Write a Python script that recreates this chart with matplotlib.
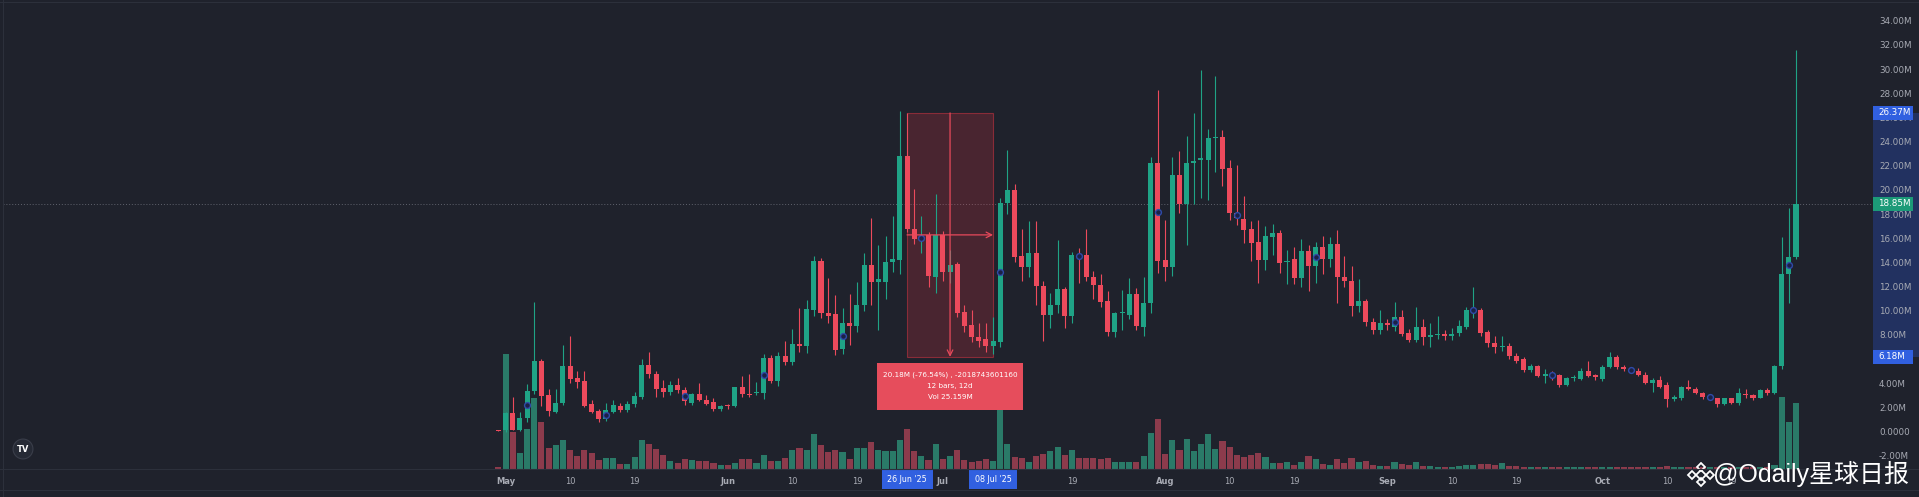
import numpy as np
import pandas as pd
import matplotlib
matplotlib.use('Agg')
import matplotlib.pyplot as plt
from matplotlib.patches import Rectangle
from matplotlib.lines import Line2D
import matplotlib.transforms as mtransforms

# daily candles, values in millions, first bar 30 Apr 2025
start = '2025-04-30'
opens = [0.08,
         0.1, 1.5, 0.15, 1.1, 3.35, 5.85, 3.0, 1.65, 2.35, 5.4,
         4.4, 4.2, 2.3, 1.7, 1.0, 1.65, 2.1, 1.75, 2.27, 2.88,
         5.5, 4.76, 3.6, 3.3, 3.87, 3.43, 2.4, 3.1, 2.6, 2.44,
         1.86, 2.15, 2.1, 3.66, 3.1, 3.15, 3.2, 6.1, 4.18, 6.25,
         5.78, 7.24, 7.08, 10.06, 14.14, 9.8, 9.7, 6.83, 8.98, 8.7,
         10.47, 13.78, 12.4, 12.4, 14.03, 14.2, 22.8, 16.8, 15.95, 16.27,
         12.8, 16.27, 13.2, 13.86, 9.9, 8.8, 7.85, 7.66, 7.08, 7.43,
         18.94, 20.0, 14.5, 13.6, 14.8, 12.04, 9.64, 10.47, 11.77, 9.6,
         14.6, 14.6, 12.8, 12.1, 10.8, 8.2, 9.8, 9.65, 11.4, 8.68,
         10.6, 22.25, 14.2, 13.6, 21.2, 18.8, 22.2, 22.45, 22.5, 24.27,
         24.35, 21.8, 18.1, 17.57, 16.8, 15.7, 14.2, 16.1, 16.46, 14.0,
         14.25, 12.73, 14.94, 13.7, 15.3, 14.28, 15.5, 12.8, 12.46, 10.39,
         10.8, 9.09, 8.4, 9.0, 8.68, 9.5, 8.18, 7.57, 8.62, 7.8,
         7.95, 8.05, 7.9, 8.13, 8.68, 10.0, 10.06, 8.26, 7.35, 7.0,
         7.08, 6.28, 5.98, 5.09, 5.42, 4.6, 4.75, 4.68, 3.85, 4.4,
         4.32, 5.0, 4.6, 4.32, 5.37, 6.14, 5.37, 5.15, 5.03, 4.68,
         3.99, 4.3, 3.85, 2.66, 2.75, 3.7, 3.55, 3.15, 2.85, 2.75,
         2.3, 2.75, 2.33, 3.1, 3.0, 2.8, 3.45, 3.16, 5.42, 13.04,
         14.47]
closes = [0.05,
          1.5, 0.15, 1.1, 3.35, 5.85, 2.95, 1.7, 2.4, 5.4, 4.35,
          4.1, 2.1, 1.65, 1.0, 1.8, 2.2, 1.75, 2.3, 2.94, 5.5,
          4.76, 3.5, 3.27, 3.87, 3.4, 2.5, 3.1, 2.6, 2.3, 1.86,
          2.1, 2.1, 3.66, 3.1, 3.05, 3.25, 6.1, 4.18, 6.25, 5.78,
          7.24, 7.08, 10.14, 14.14, 9.8, 9.6, 6.75, 8.98, 8.7, 10.47,
          13.78, 12.4, 12.6, 14.03, 14.3, 22.8, 16.8, 15.9, 16.1, 12.87,
          16.27, 13.2, 13.8, 9.8, 8.73, 7.85, 7.5, 7.08, 7.5, 18.94,
          20.0, 14.47, 13.6, 14.8, 12.04, 9.64, 10.47, 11.77, 9.6, 14.6,
          14.4, 12.8, 12.1, 10.75, 8.2, 9.78, 9.8, 11.4, 8.7, 10.6,
          22.25, 14.14, 13.6, 21.2, 18.8, 22.2, 22.4, 22.6, 24.27, 24.4,
          21.7, 18.06, 17.7, 16.68, 15.58, 14.2, 16.2, 16.4, 13.97, 14.15,
          12.73, 14.94, 13.7, 15.25, 14.28, 15.5, 12.76, 12.46, 10.39, 10.8,
          9.09, 8.4, 9.0, 8.8, 9.5, 8.1, 7.57, 8.62, 7.85, 8.0,
          8.05, 7.9, 8.05, 8.73, 10.06, 10.15, 8.18, 7.35, 7.0, 7.1,
          6.28, 5.86, 5.09, 5.42, 4.6, 4.76, 4.65, 3.85, 4.4, 4.55,
          5.03, 4.6, 4.55, 5.37, 6.14, 5.34, 5.15, 5.05, 4.68, 3.99,
          4.3, 3.7, 2.66, 2.9, 3.71, 3.55, 3.15, 2.85, 2.9, 2.28,
          2.75, 2.4, 3.16, 3.0, 2.8, 3.4, 3.16, 5.42, 13.04, 14.47,
          18.85]
highs = [0.1,
         1.6, 2.9, 1.6, 3.9, 10.7, 6.0, 3.55, 3.55, 7.15, 7.9,
         5.0, 5.0, 2.6, 1.9, 2.4, 2.6, 2.4, 2.5, 3.3, 6.0,
         6.6, 5.0, 4.3, 4.2, 4.4, 3.7, 3.2, 4.0, 3.0, 2.8,
         2.2, 2.3, 3.7, 4.6, 4.8, 4.1, 6.4, 6.3, 6.6, 7.5,
         8.5, 10.2, 10.9, 14.5, 14.4, 12.7, 11.3, 10.2, 11.4, 12.4,
         14.8, 17.7, 15.4, 16.2, 17.84, 26.5, 26.37, 20.1, 17.8, 16.5,
         19.7, 16.6, 15.0, 14.0, 10.5, 10.06, 9.0, 9.0, 9.5, 19.3,
         23.3, 20.5, 16.8, 17.4, 17.4, 12.5, 11.5, 15.85, 12.0, 14.9,
         15.2, 16.8, 13.3, 13.0, 11.6, 9.9, 11.7, 12.7, 11.9, 12.8,
         22.7, 28.3, 17.5, 22.7, 23.25, 24.5, 26.4, 29.9, 25.0, 29.4,
         24.96, 22.5, 22.06, 19.5, 17.45, 17.5, 17.0, 17.2, 16.7, 15.0,
         15.3, 15.9, 15.4, 15.7, 16.2, 16.1, 16.7, 14.5, 13.7, 12.6,
         11.0, 9.4, 10.1, 9.3, 10.7, 10.1, 8.5, 10.3, 9.3, 9.0,
         9.6, 8.4, 8.6, 9.2, 10.3, 11.94, 10.2, 8.4, 7.9, 7.9,
         7.3, 6.5, 6.2, 5.6, 5.5, 5.2, 5.0, 4.8, 4.5, 4.65,
         5.3, 5.8, 4.8, 5.5, 6.6, 6.3, 5.5, 5.3, 5.3, 4.9,
         4.4, 4.6, 4.1, 3.0, 3.75, 4.3, 3.7, 3.3, 3.1, 2.8,
         2.8, 2.8, 3.6, 3.5, 3.1, 3.5, 3.6, 5.5, 16.07, 18.5,
         31.6]
lows = [0.03,
        0.0, 0.1, 0.05, 0.8, 3.1, 2.1, 1.3, 1.5, 2.2, 4.0,
        3.6, 2.0, 1.5, 0.8, 0.9, 1.5, 1.6, 1.6, 2.0, 2.7,
        4.4, 2.9, 2.9, 3.0, 3.2, 2.2, 2.2, 2.5, 2.2, 1.7,
        1.7, 1.9, 2.0, 2.9, 2.9, 3.0, 2.7, 4.0, 3.8, 5.5,
        5.5, 6.6, 6.5, 9.6, 9.4, 9.0, 6.3, 6.4, 7.2, 8.2,
        10.0, 10.5, 8.4, 11.0, 13.2, 13.0, 16.5, 15.5, 14.8, 12.0,
        11.5, 12.5, 12.3, 9.5, 8.2, 7.4, 7.0, 6.6, 6.4, 7.0,
        18.0, 14.0, 12.5, 12.8, 10.5, 7.5, 8.6, 9.8, 8.6, 9.0,
        12.3, 12.5, 11.0, 10.3, 7.9, 7.8, 8.4, 9.3, 8.4, 7.9,
        9.8, 13.15, 12.5, 12.9, 18.1, 15.4, 18.8, 19.3, 19.2, 21.5,
        20.3, 17.5, 17.1, 15.6, 14.14, 12.3, 13.37, 14.6, 13.1, 12.2,
        12.2, 12.0, 11.6, 12.3, 13.0, 13.6, 10.6, 12.0, 9.6, 9.9,
        8.7, 8.1, 8.1, 8.4, 8.3, 7.9, 7.4, 7.4, 7.2, 7.0,
        7.7, 7.6, 7.6, 7.9, 8.5, 9.4, 7.9, 7.0, 6.5, 6.7,
        6.0, 5.7, 4.9, 4.9, 4.5, 4.0, 4.3, 3.7, 3.8, 4.2,
        4.3, 4.5, 4.3, 4.2, 5.3, 5.2, 5.0, 4.9, 4.6, 3.9,
        3.3, 3.6, 2.0, 2.5, 2.6, 3.4, 3.1, 2.7, 2.7, 2.0,
        2.2, 2.3, 2.2, 2.8, 2.6, 2.75, 3.0, 3.1, 5.2, 10.6,
        14.3]
volumes = [0.3,
           15.3, 4.9, 2.1, 5.3, 9.4, 6.3, 2.8, 3.2, 3.9, 2.5,
           1.7, 2.5, 2.1, 1.2, 1.5, 1.5, 0.7, 0.7, 1.6, 3.9,
           3.3, 2.7, 1.9, 1.1, 0.8, 1.3, 1.2, 1.1, 1.1, 0.8,
           0.5, 0.5, 0.8, 1.3, 1.3, 0.8, 1.9, 1.1, 1.1, 1.5,
           2.5, 2.8, 2.5, 4.7, 3.2, 2.3, 2.5, 2.3, 1.3, 2.8,
           2.8, 3.6, 2.5, 2.4, 2.4, 3.9, 5.3, 2.4, 1.7, 1.2,
           3.3, 1.3, 1.7, 2.5, 1.2, 0.9, 1.1, 1.3, 1.1, 7.8,
           3.3, 1.6, 1.5, 0.9, 1.7, 2.0, 2.4, 2.9, 1.9, 2.5,
           1.5, 1.5, 1.5, 1.3, 1.5, 0.9, 0.9, 0.9, 0.9, 1.7,
           4.8, 6.7, 2.0, 3.9, 2.5, 4.0, 2.4, 3.3, 4.7, 2.7,
           3.7, 2.9, 1.9, 1.6, 1.9, 2.1, 1.6, 0.8, 0.8, 0.9,
           0.5, 0.9, 1.7, 1.3, 0.7, 0.5, 1.3, 0.8, 1.5, 0.9,
           1.1, 0.5, 0.4, 0.4, 0.9, 0.7, 0.5, 0.9, 0.4, 0.4,
           0.3, 0.3, 0.3, 0.4, 0.5, 0.5, 0.7, 0.7, 0.5, 0.8,
           0.4, 0.4, 0.3, 0.3, 0.3, 0.3, 0.2, 0.2, 0.2, 0.2,
           0.3, 0.3, 0.2, 0.3, 0.3, 0.3, 0.2, 0.2, 0.2, 0.3,
           0.3, 0.3, 0.4, 0.3, 0.3, 0.2, 0.2, 0.2, 0.2, 0.2,
           0.2, 0.2, 0.3, 0.2, 0.2, 0.3, 0.3, 0.5, 9.6, 6.3,
           8.8]
event_dates = ['2025-05-04', '2025-05-15', '2025-05-26', '2025-06-06', '2025-06-17',
               '2025-06-28', '2025-07-09', '2025-07-20', '2025-07-31', '2025-08-11',
               '2025-08-22', '2025-09-02', '2025-09-13', '2025-09-24', '2025-10-05',
               '2025-10-16', '2025-10-27']

# measured range drawn on the chart
range_start, range_end = '2025-06-26', '2025-07-08'
range_high, range_low = 26.37, 6.18
range_text = ['20.18M (-76.54%) , -2018743601160', '12 bars, 12d', 'Vol 25.159M']

tick_dates = ['2025-05-01', '2025-05-10', '2025-05-19', '2025-06-01', '2025-06-10',
              '2025-06-19', '2025-07-01', '2025-07-19', '2025-08-01', '2025-08-10',
              '2025-08-19', '2025-09-01', '2025-09-10', '2025-09-19', '2025-10-01',
              '2025-10-10', '2025-10-19']
tick_labels = ['May', '10', '19', 'Jun', '10', '19', 'Jul', '19', 'Aug', '10', '19',
               'Sep', '10', '19', 'Oct', '10', '19']
months = ['May', 'Jun', 'Jul', 'Aug', 'Sep', 'Oct']

assert len(opens) == len(closes) == len(highs) == len(lows) == len(volumes) == 182

BG = '#1f222c'
UP, DOWN = '#1fa386', '#ec4a5c'
VUP, VDOWN = '#2a7a68', '#8c3b4c'
BLUE = '#3160e0'
TXT = '#a8abb4'
LINE = '#2c303b'

ref = pd.Timestamp('2025-05-01')
dates = pd.date_range(start, periods=len(opens), freq='D')
x = np.asarray((dates - ref).days, dtype=float)
o = np.array(opens)
c = np.array(closes)
h = np.array(highs)
l = np.array(lows)
v = np.array(volumes)
up = c >= o


def day(s):
    return (pd.Timestamp(s) - ref).days


W, H = 1919, 497
fig = plt.figure(figsize=(W / 100, H / 100), dpi=100, facecolor=BG)
ax = fig.add_axes([3 / W, (H - 469) / H, (1872 - 3) / W, (469 - 2) / H])
ax2 = ax.twinx()

# volume underneath
ax2.bar(x, v, width=0.85, color=np.where(up, VUP, VDOWN), linewidth=0)
ax2.set_ylim(0, 62.1)
ax2.set_yticks([])
ax2.patch.set_facecolor(BG)
for s in ax2.spines.values():
    s.set_visible(False)

ax.set_zorder(ax2.get_zorder() + 1)
ax.patch.set_visible(False)

# candles
cols = np.where(up, UP, DOWN)
ax.vlines(x, l, h, colors=cols, linewidth=0.8, zorder=3)
ax.bar(x, np.maximum(np.abs(c - o), 0.09), bottom=np.minimum(o, c), width=0.7,
       color=cols, linewidth=0, zorder=3)

# event markers
ev = np.array([day(d) for d in event_dates])
idx = np.searchsorted(x, ev)
ax.plot(ev, (o[idx] + c[idx]) / 2, 'o', ms=4.2, mfc='#1b2146', mec='#2f4ba8', mew=1, zorder=4)

# last price line
ax.axhline(c[-1], color='#5f626d', lw=0.7, ls=(0, (1, 2)), zorder=1)

# date & price range tool
x0, x1 = day(range_start), day(range_end)
xm = (x0 + x1) / 2
ym = (range_high + range_low) / 2
ax.add_patch(Rectangle((x0, range_low), x1 - x0, range_high - range_low,
                       facecolor=(0.95, 0.21, 0.27, 0.2), edgecolor=(0.95, 0.21, 0.27, 0.45),
                       lw=0.8, zorder=2))
ax.annotate('', xy=(x1, ym), xytext=(x0, ym),
            arrowprops=dict(arrowstyle='->', color='#e8495b', lw=0.9, shrinkA=0, shrinkB=0), zorder=5)
ax.annotate('', xy=(xm, range_low), xytext=(xm, range_high),
            arrowprops=dict(arrowstyle='->', color='#e8495b', lw=0.9, shrinkA=0, shrinkB=0), zorder=5)
ax.add_patch(Rectangle((xm - 10.15, range_low - 4.4), 20.3, 3.9, facecolor='#e64d5c',
                       edgecolor='none', zorder=6))
for i, t in enumerate(range_text):
    ax.text(xm, range_low - 1.5 - 0.93 * i, t, color='white', fontsize=5.2, ha='center',
            va='center', zorder=7)

ax.set_xlim(-70.1, 190.6)
ax.set_ylim(-3.10, 35.55)
for s in ax.spines.values():
    s.set_visible(False)

# price scale
yt = np.arange(-2, 35, 2)
ax.yaxis.tick_right()
ax.set_yticks(yt)
ax.set_yticklabels(['0.0000' if t == 0 else f'{t:.2f}M' for t in yt])
ax.tick_params(axis='y', length=0, pad=5, labelsize=6.3, labelcolor=TXT)

# time scale
ax.set_xticks([day(d) for d in tick_dates])
ax.set_xticklabels(tick_labels)
ax.tick_params(axis='x', length=0, pad=5.5, labelsize=6, labelcolor=TXT)
for lab in ax.get_xticklabels():
    if lab.get_text() in months:
        lab.set_fontweight('bold')

tf = mtransforms.blended_transform_factory(fig.transFigure, ax.transData)
ax.add_patch(Rectangle((1873 / W, range_low), (W - 1873) / W, range_high - range_low,
                       transform=tf, facecolor='#223160', edgecolor='none', clip_on=False,
                       zorder=0.5))
for val, col in [(range_high, BLUE), (c[-1], '#1c9a78'), (range_low, BLUE)]:
    ax.add_patch(Rectangle((1873 / W, val - 0.6), 40 / W, 1.2, transform=tf, facecolor=col,
                           edgecolor='none', clip_on=False, zorder=8))
    ax.text(1878 / W, val, f'{val:.2f}M', transform=tf, color='white', fontsize=6.3,
            ha='left', va='center', clip_on=False, zorder=9)

tx = mtransforms.blended_transform_factory(ax.transData, fig.transFigure)
for d in [range_start, range_end]:
    ax.text(day(d), 1 - 479 / H, pd.Timestamp(d).strftime("%d %b '%y"), transform=tx,
            color='white', fontsize=5.8, ha='center', va='center', clip_on=False, zorder=9,
            bbox=dict(boxstyle='square,pad=0.7', facecolor=BLUE, edgecolor='none'))

# frame lines
for (xa, ya, xb, yb) in [(0, 1 - 2 / H, 1, 1 - 2 / H), (0, 1 - 469 / H, 1, 1 - 469 / H),
                         (0, 1 - 490 / H, 1, 1 - 490 / H), (3 / W, 0, 3 / W, 1)]:
    fig.add_artist(Line2D([xa, xb], [ya, yb], color=LINE, lw=0.8))

# TradingView badge
fig.text(23 / W, 1 - 449 / H, 'TV', color='white', fontsize=6, fontweight='bold',
         ha='center', va='center',
         bbox=dict(boxstyle='circle,pad=0.45', facecolor='#262a35', edgecolor='#3a3e4a', lw=0.8))

# watermark
lg = fig.add_axes([1686 / W, (H - 487) / H, 30 / W, 25 / H])
lg.set_xlim(-1.6, 1.6)
lg.set_ylim(-1.6, 1.6)
lg.axis('off')
lg.plot([0, 1, 0, -1], [1, 0, -1, 0], 'D', ms=4.5, mfc='none', mec='white', mew=1.3)
lg.plot([0], [0], 'D', ms=5, mfc='none', mec='white', mew=1.3)
fig.text(1713 / W, 1 - 474 / H, '@Odaily星球日报', color='white', fontsize=18,
         family=['Liberation Sans', 'Noto Sans CJK SC'], ha='left', va='center')

fig.savefig('out.png', dpi=100, facecolor=BG)
